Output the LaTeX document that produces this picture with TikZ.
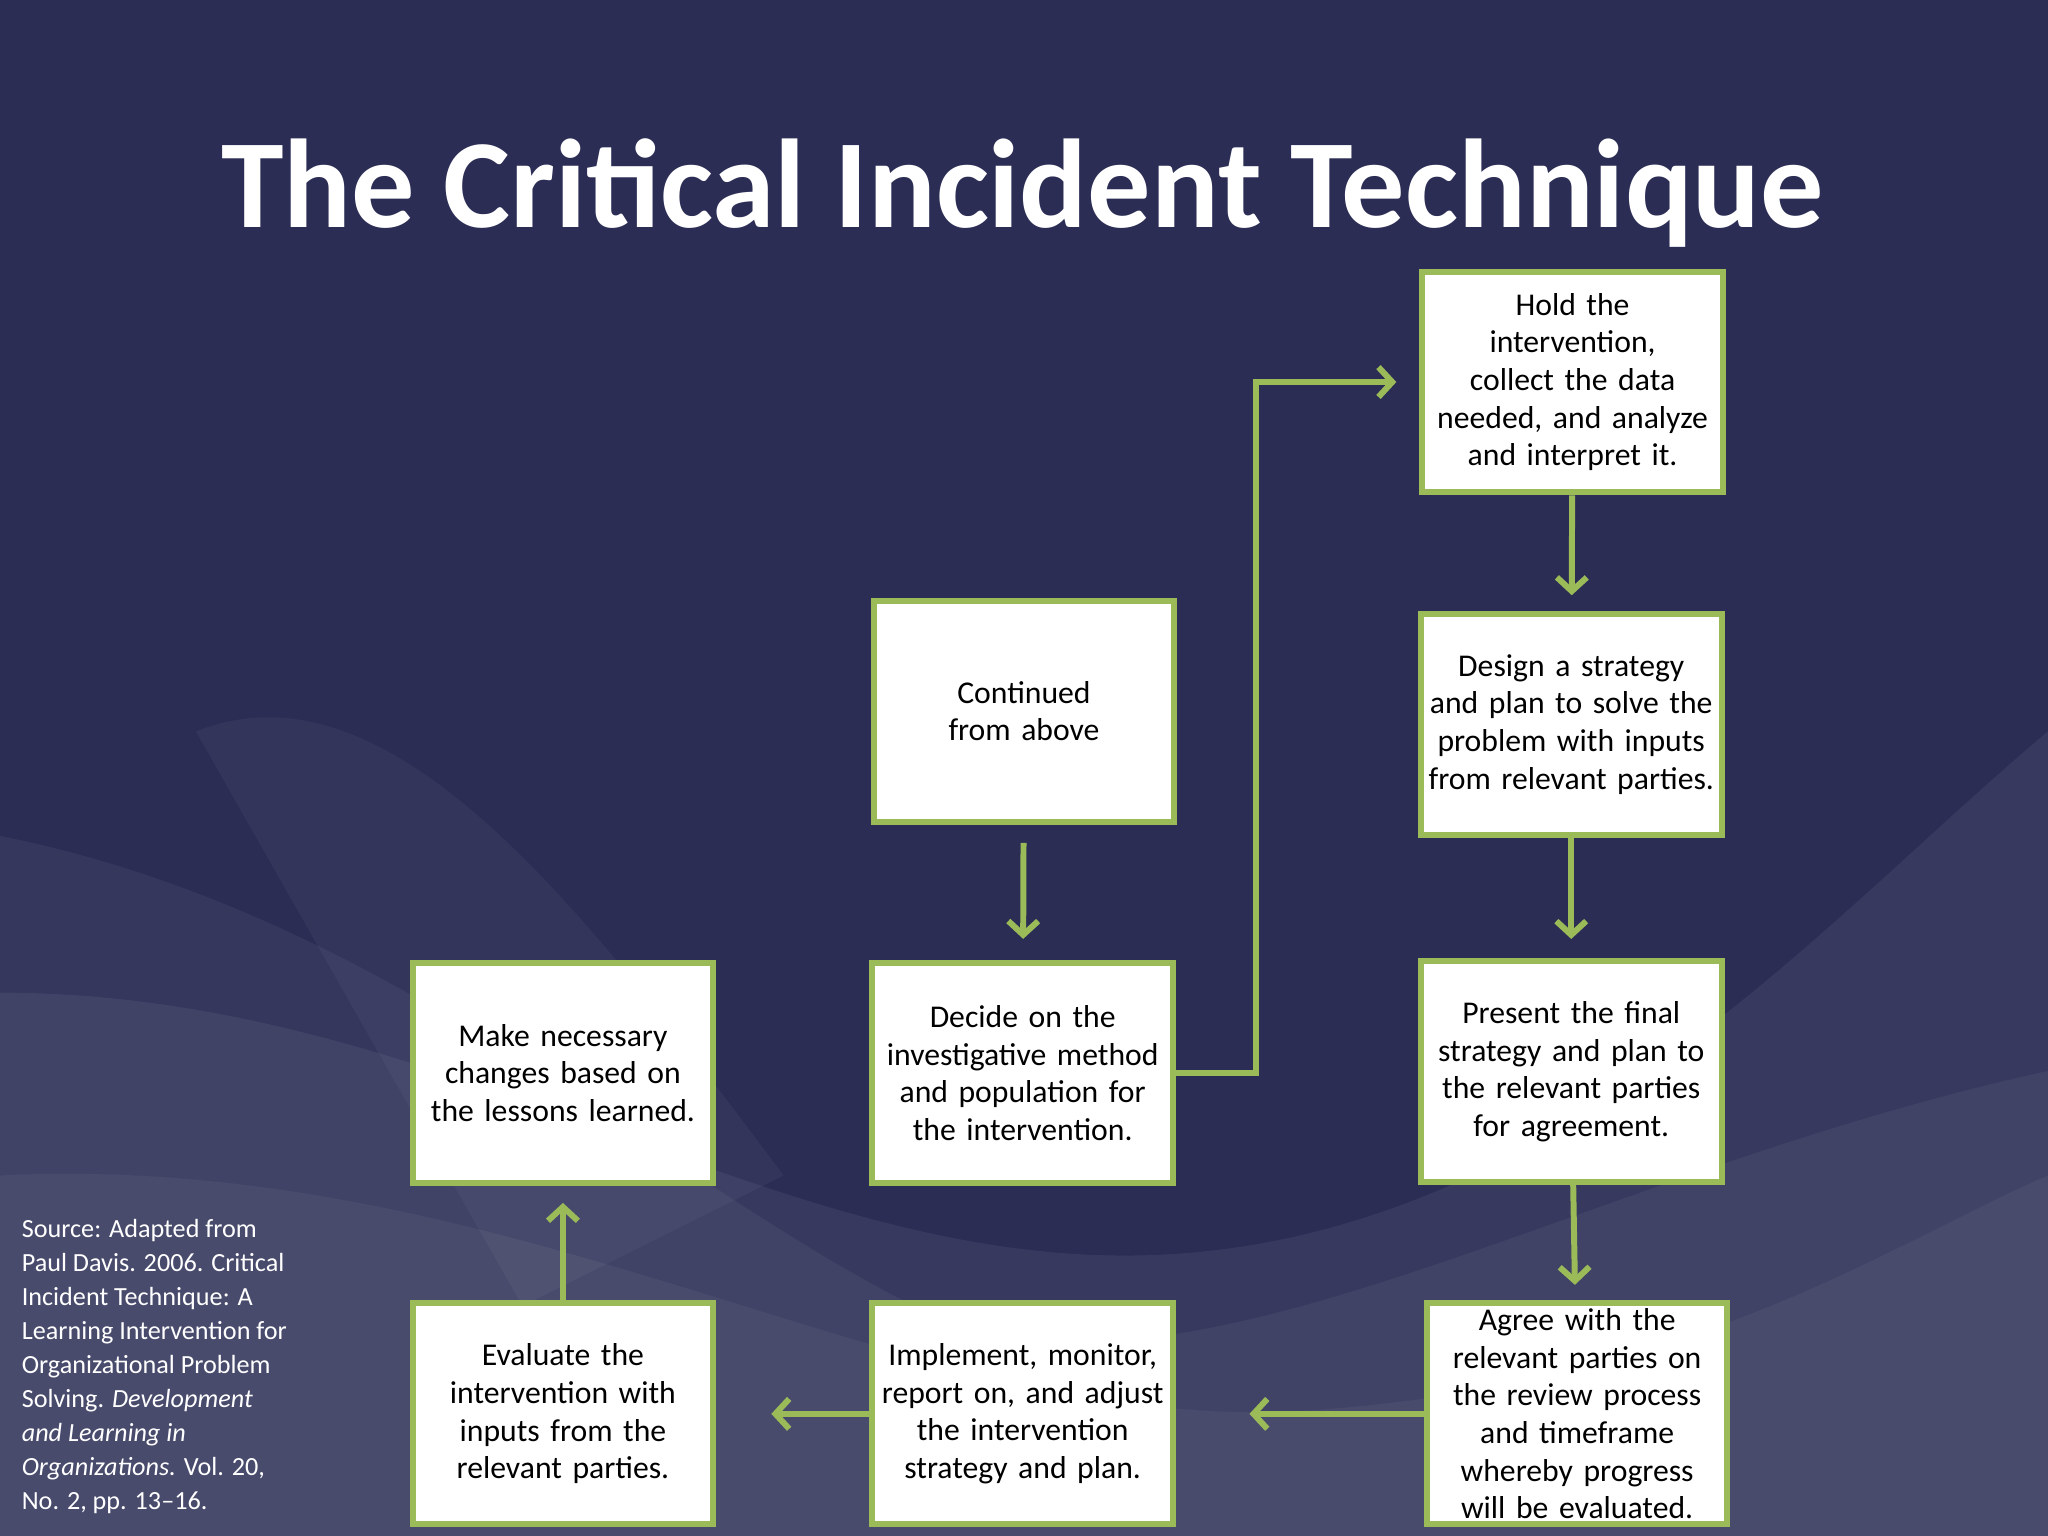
\documentclass[tikz,border=0pt]{standalone}
\usepackage{fontspec}
\setmainfont{Carlito}
\usetikzlibrary{arrows.meta}
\hyphenpenalty=10000
\exhyphenpenalty=10000
\definecolor{navy}{HTML}{2B2D55}
\definecolor{gr}{HTML}{9BBB59}
\tikzset{
 box/.style={draw=gr,line width=1.3pt,fill=white,minimum width=2.3cm,minimum height=1.69cm,align=center,text width=2.2cm,inner sep=0pt,font=\fontsize{6.9}{8.2}\selectfont},
 con/.style={draw=gr,line width=1.3pt,-{Straight Barb[length=3pt,width=6.5pt]}}
}
\begin{document}
\begin{tikzpicture}[x=0.01cm,y=-0.01cm]
\fill[navy] (0,0) rectangle (1568,1176);
\begin{scope}
\clip (0,0) rectangle (1568,1176);
\fill[white,opacity=0.05] (0,640) .. controls (300,700) and (500,900) .. (700,1000) .. controls (900,1100) and (1200,900) .. (1568,820) -- (1568,1176) -- (0,1176) -- cycle;
\fill[white,opacity=0.06] (0,760) .. controls (350,760) and (600,980) .. (900,960) .. controls (1200,940) and (1400,700) .. (1568,560) -- (1568,1176) -- (0,1176) -- cycle;
\fill[white,opacity=0.05] (0,900) .. controls (400,880) and (700,1100) .. (1000,1080) .. controls (1300,1060) and (1450,950) .. (1568,900) -- (1568,1176) -- (0,1176) -- cycle;
\fill[white,opacity=0.04] (150,560) .. controls (300,500) and (450,700) .. (600,900) -- (400,1000) -- cycle;
\end{scope}
\node[text=white,font=\fontsize{27.5}{30}\selectfont\bfseries] (title) at (783,148) {The Critical Incident Technique};
\node[box] (hold) at (1204,292.5) {Hold the intervention, collect the data needed, and analyze and interpret it.};
\node[box] (design) at (1203,554.5) {Design a strategy and plan to solve the problem with inputs from relevant parties.};
\node[box] (present) at (1203,820.5) {Present the final strategy and plan to the relevant parties for agreement.};
\node[box] (agree) at (1207.5,1082.5) {Agree with the relevant parties on the review process and timeframe whereby progress will be evaluated.};
\node[box] (cont) at (784,544.5) {Continued from above};
\node[box] (decide) at (783,821.5) {Decide on the investigative method and population for the intervention.};
\node[box] (impl) at (783,1082.5) {Implement, monitor, report on, and adjust the intervention strategy and plan.};
\node[box] (make) at (431,821.5) {Make necessary changes based on the lessons learned.};
\node[box] (eval) at (431,1082.5) {Evaluate the intervention with inputs from the relevant parties.};
\node[text=white,anchor=north west,align=left,inner sep=0pt,font=\fontsize{5.7}{7.4}\selectfont] (src) at (16,933) {Source: Adapted from\\Paul Davis. 2006. Critical\\Incident Technique: A\\Learning Intervention for\\Organizational Problem\\Solving. \textit{Development}\\\textit{and Learning in}\\\textit{Organizations.} Vol. 20,\\No. 2, pp. 13–16.};
\draw[con,shorten >=4.5pt,shorten <=4pt] (cont) -- (decide);
\draw[con,shorten >=3.4pt] (hold) -- (design);
\draw[con,shorten >=4.2pt] (design) -- (present);
\draw[con,shorten >=3.4pt] (present) -- (agree);
\draw[con,shorten >=16pt] (agree) -- (impl);
\draw[con,shorten >=12pt] (impl) -- (eval);
\draw[con,shorten >=3.6pt] (eval) -- (make);
\draw[con,shorten >=5pt] (decide.east) -- ++(61,0) |- (hold.west);
\end{tikzpicture}
\end{document}
